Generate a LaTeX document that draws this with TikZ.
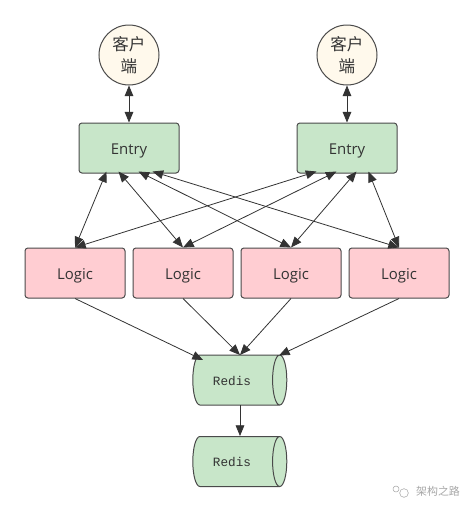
\documentclass[tikz,border=0pt]{standalone}
\usepackage{fontspec}
\setmainfont{Open Sans}
\newfontfamily\cjkfont{Noto Sans CJK SC}
\newfontfamily\monofont{Liberation Mono}
\usetikzlibrary{arrows.meta,shapes.geometric}
\definecolor{boxgreen}{HTML}{C8E6C9}
\definecolor{boxpink}{HTML}{FFCDD2}
\definecolor{boxcream}{HTML}{FFF9EC}
\definecolor{edgegray}{HTML}{4A4A4A}
\definecolor{inkgray}{HTML}{333333}
\definecolor{marksilver}{HTML}{A8A8A8}
\tikzset{
  x=0.75pt,y=-0.75pt,
  rbox/.style={draw=edgegray,line width=0.75pt,rounded corners=2.2pt,minimum width=75pt,minimum height=37.5pt,inner sep=0pt,text=inkgray,text height=9.4pt,text depth=0pt,font=\fontsize{11.2}{12}\selectfont},
  entrybox/.style={rbox,fill=boxgreen},
  logicbox/.style={rbox,fill=boxpink},
  clientnode/.style={circle,draw=edgegray,line width=0.75pt,fill=boxcream,minimum size=45pt,inner sep=0pt,text=inkgray,align=center,font=\fontsize{12.4}{16.5}\selectfont\cjkfont},
  redisnode/.style={cylinder,shape border rotate=0,aspect=1.3,draw=edgegray,line width=0.75pt,cylinder uses custom fill,cylinder body fill=boxgreen,cylinder end fill=boxgreen,minimum height=70.5pt,minimum width=37.5pt,inner sep=0pt,text=inkgray,text height=8.2pt,text depth=0pt,font=\fontsize{9.5}{11}\selectfont\monofont},
  link/.style={draw=inkgray,line width=0.6pt,-{Triangle[length=8pt,width=6.5pt]}},
  bilink/.style={draw=inkgray,line width=0.6pt,{Triangle[length=8pt,width=6.5pt]}-{Triangle[length=8pt,width=6.5pt]}},
  wmtext/.style={text=marksilver,inner sep=0pt,font=\fontsize{8.2}{9}\selectfont\cjkfont},
}
\begin{document}
\begin{tikzpicture}
\useasboundingbox[fill=white] (0,0) rectangle (474,512);
\node[clientnode] (c1) at (129,55) {客户\\端};
\node[clientnode] (c2) at (347,55) {客户\\端};
\node[entrybox] (e1) at (129,148) {Entry};
\node[entrybox] (e2) at (347,148) {Entry};
\node[logicbox] (l1) at (75,273) {Logic};
\node[logicbox] (l2) at (183,273) {Logic};
\node[logicbox] (l3) at (291,273) {Logic};
\node[logicbox] (l4) at (399,273) {Logic};
\node[redisnode] (r1) at (236,380) {Redis\hspace*{6pt}};
\node[redisnode] (r2) at (236,461.5) {Redis\hspace*{6pt}};
\node[wmtext] (wm) at (438,491) {架构之路};
\node[circle,draw=marksilver,line width=0.4pt,minimum size=4.5pt,inner sep=0pt] (ic1) at (396,489) {};
\node[circle,draw=marksilver,line width=0.4pt,fill=white,minimum size=6.5pt,inner sep=0pt] (ic2) at (404,493) {};
\coordinate (e1a) at ([xshift=21pt,yshift=1.5pt]e1.south west);
\coordinate (e1b) at ([xshift=30pt,yshift=1.5pt]e1.south west);
\coordinate (e1c) at ([xshift=45pt,yshift=1.5pt]e1.south west);
\coordinate (e1d) at ([xshift=55.5pt,yshift=1.5pt]e1.south west);
\coordinate (e2a) at ([xshift=15pt,yshift=1.5pt]e2.south west);
\coordinate (e2b) at ([xshift=30pt,yshift=1.5pt]e2.south west);
\coordinate (e2c) at ([xshift=45pt,yshift=1.5pt]e2.south west);
\coordinate (e2d) at ([xshift=54pt,yshift=1.5pt]e2.south west);
\coordinate (r1l) at (203,360);
\coordinate (r1r) at (279,355.5);
\coordinate (r1t) at (240,355);
\coordinate (r1b) at (240,405);
\coordinate (r2t) at (240,436);
\draw[bilink] (c1.south) -- (e1.north);
\draw[bilink] (c2.south) -- (e2.north);
\draw[bilink] (e1a) -- (l1.north);
\draw[bilink] (e1b) -- (l2.north);
\draw[bilink] (e1c) -- (l3.north);
\draw[bilink] (e1d) -- (l4.north);
\draw[bilink] (e2a) -- (l1.north);
\draw[bilink] (e2b) -- (l2.north);
\draw[bilink] (e2c) -- (l3.north);
\draw[bilink] (e2d) -- (l4.north);
\draw[link] (l1.south) -- (r1l);
\draw[link] (l2.south) -- (r1t);
\draw[link] (l3.south) -- (r1t);
\draw[link] (l4.south) -- (r1r);
\draw[link] (r1b) -- (r2t);
\end{tikzpicture}
\end{document}
